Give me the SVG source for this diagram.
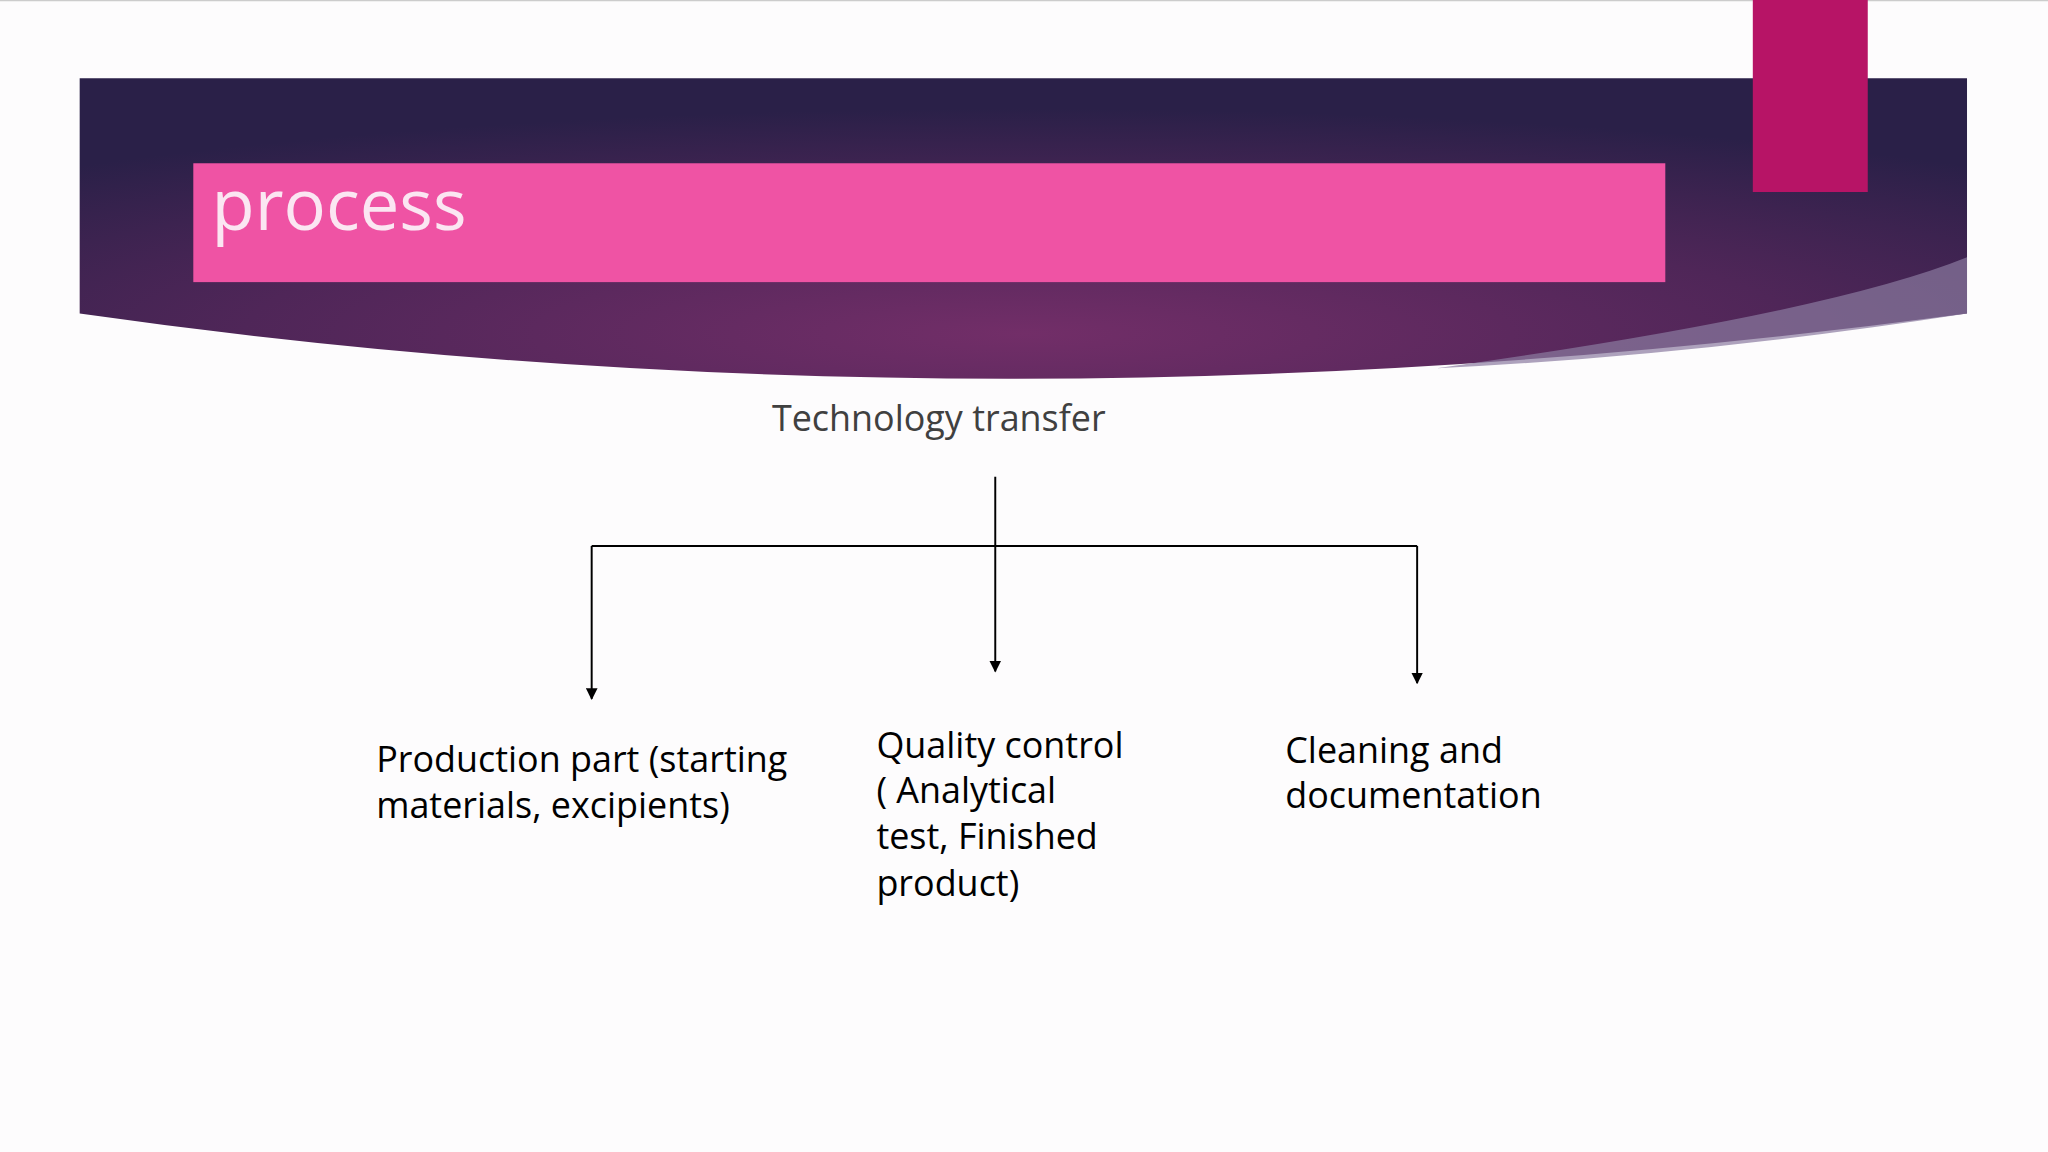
<svg xmlns="http://www.w3.org/2000/svg" width="2048" height="1152" viewBox="0 0 2048 1152">
<defs>
<radialGradient id="bg" cx="0.5" cy="0.85" r="0.75">
<stop offset="0" stop-color="#722e68"/>
<stop offset="0.55" stop-color="#4f2658"/>
<stop offset="1" stop-color="#2a2048"/>
</radialGradient>
<marker id="ah" viewBox="0 0 10 10" refX="9" refY="5" markerWidth="6" markerHeight="6" orient="auto"><path d="M0,0 L10,5 L0,10 z" fill="#000"/></marker>
<style>
.t{font-family:"Open Sans","Noto Sans",sans-serif;font-size:27.5px;fill:#000}
.c{stroke:#000;stroke-width:1.5;fill:none}
</style>
</defs>
<rect width="2048" height="1152" fill="#fdfcfd"/>
<g transform="scale(1.30612)">
<line x1="0" y1="0.5" x2="1568" y2="0.5" stroke="#ccc"/>
<path d="M61,60 H1506 V240 Q760,340 61,240 Z" fill="url(#bg)"/>
<path d="M1100,282 Q1400,240 1506,197 V240 Q1300,272 1100,282 Z" fill="#8a7aa0" opacity="0.7"/>
<rect x="1342" y="0" width="88" height="147" fill="#b71466"/>
<g id="title"><rect x="148" y="125" width="1127" height="91" fill="#ef53a4"/>
<text x="162" y="176" font-family="'Open Sans','Noto Sans',sans-serif" font-size="54" fill="#fbe6f2">process</text></g>
<g id="root"><text x="591" y="330" font-family="'Open Sans','Noto Sans',sans-serif" font-size="27.5" fill="#404040">Technology transfer</text></g>
<g id="connectors">
<line class="c" x1="762" y1="365" x2="762" y2="514" marker-end="url(#ah)"/>
<line class="c" x1="453" y1="418" x2="1085" y2="418"/>
<line class="c" x1="453" y1="418" x2="453" y2="535" marker-end="url(#ah)"/>
<line class="c" x1="1085" y1="418" x2="1085" y2="523" marker-end="url(#ah)"/>
</g>
<g id="n1"><text class="t" x="288" y="591">Production part (starting</text><text class="t" x="288" y="626">materials, excipients)</text></g>
<g id="n2"><text class="t" x="671" y="580">Quality control</text><text class="t" x="671" y="615">( Analytical</text><text class="t" x="671" y="650">test, Finished</text><text class="t" x="671" y="686">product)</text></g>
<g id="n3"><text class="t" x="984" y="584">Cleaning and</text><text class="t" x="984" y="619">documentation</text></g>
</g>
</svg>
